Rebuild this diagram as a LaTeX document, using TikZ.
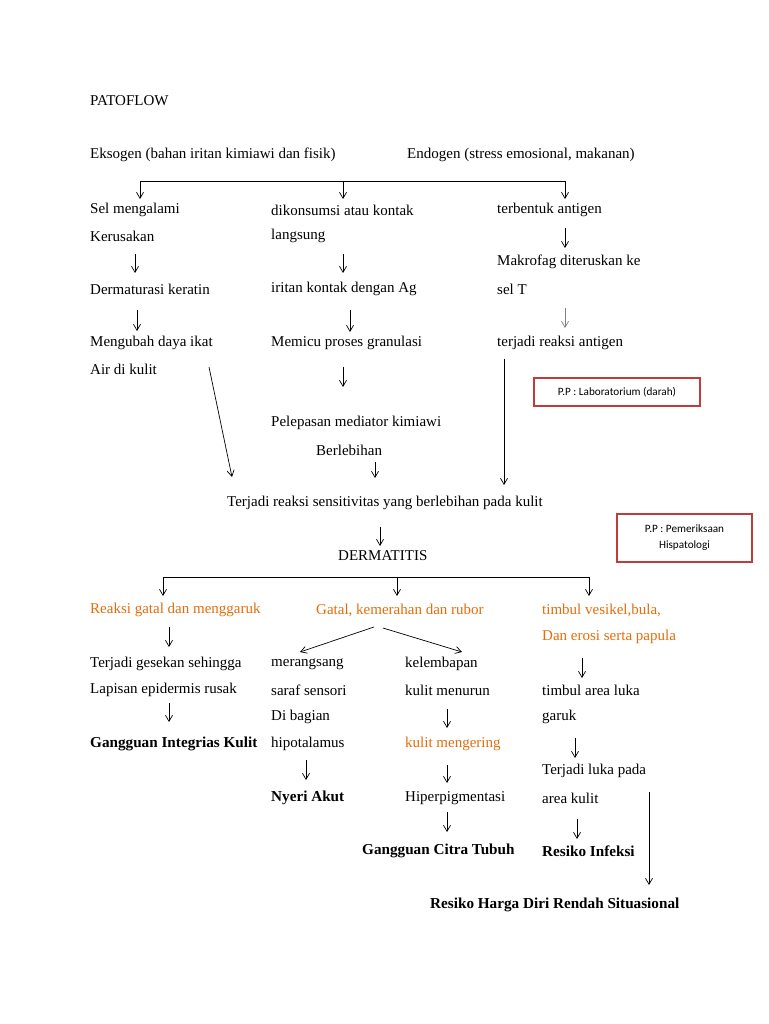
\documentclass[tikz,border=0pt]{standalone}
\usepackage{fontspec}
\setmainfont{Liberation Serif}
\newfontfamily\boxfont{Carlito}
\usetikzlibrary{arrows.meta}
\definecolor{org}{RGB}{228,108,10}
\definecolor{rbox}{RGB}{192,60,60}
\begin{document}
\begin{tikzpicture}[x=1pt,y=-1pt,
 t/.style={anchor=west,inner sep=0pt,font=\fontsize{15}{17}\selectfont},
 o/.style={t,text=org},
 b/.style={t,font=\fontsize{15.2}{17}\selectfont\bfseries},
 ar/.style={-{Straight Barb[length=6pt,width=7pt]},line width=0.7pt},
 box/.style={draw=rbox,line width=1.5pt,align=center,font=\boxfont\fontsize{11.2}{16}\selectfont}]
\useasboundingbox (0,0) rectangle (768,1024);
\node[t] (pf) at (90,101) {PATOFLOW};
\node[t] (ek) at (90,155) {Eksogen (bahan iritan kimiawi dan fisik)};
\node[t] (en) at (407,155) {Endogen (stress emosional, makanan)};
\draw[line width=0.7pt] (140,181) -- (565,181);
\draw[ar] (140,181) -- (140,199);
\draw[ar] (343,181) -- (343,199);
\draw[ar] (565,181) -- (565,199);
\node[t] at (90,210) {Sel mengalami};
\node[t] at (90,236) {Kerusakan};
\node[t] at (271,210) {dikonsumsi atau kontak};
\node[t] at (271,236) {langsung};
\node[t] at (497,210) {terbentuk antigen};
\draw[ar] (565,228) -- (565,248);
\node[t] at (497,262) {Makrofag diteruskan ke};
\node[t] at (497,289) {sel T};
\draw[ar] (135,254) -- (135,273);
\draw[ar] (343,254) -- (343,273);
\node[t] at (90,289) {Dermaturasi keratin};
\node[t] at (271,289) {iritan kontak dengan Ag};
\draw[ar] (137,310) -- (137,331);
\draw[ar] (350,310) -- (350,332);
\draw[ar,gray] (565,308) -- (565,328);
\node[t] at (90,343) {Mengubah daya ikat};
\node[t] at (90,369) {Air di kulit};
\node[t] at (271,343) {Memicu proses granulasi};
\node[t] at (497,343) {terjadi reaksi antigen};
\draw[ar] (343,367) -- (343,387);
\node[box,minimum width=166pt,minimum height=28pt] (b1) at (617,392) {P.P : Laboratorium (darah)};
\draw[ar] (209,367) -- (232,477);
\node[t] at (271,423) {Pelepasan mediator kimiawi};
\node[t] at (316,450) {Berlebihan};
\draw[ar] (375,462) -- (375,478);
\draw[ar] (504,359) -- (504,485);
\node[t] at (227,503) {Terjadi reaksi sensitivitas yang berlebihan pada kulit};
\draw[ar] (380,527) -- (380,546);
\node[box,minimum width=135pt,minimum height=48pt] (b2) at (684.5,538) {P.P : Pemeriksaan\\Hispatologi};
\node[t] at (338,556) {DERMATITIS};
\draw[line width=0.7pt] (163,577) -- (589,577);
\draw[ar] (163,577) -- (163,596);
\draw[ar] (397,577) -- (397,596);
\draw[ar] (589,577) -- (589,596);
\node[o] at (90,610) {Reaksi gatal dan menggaruk};
\node[o] at (316,610) {Gatal, kemerahan dan rubor};
\node[o] at (542,610) {timbul vesikel,bula,};
\node[o] at (542,637) {Dan erosi serta papula};
\draw[ar] (169,627) -- (169,647);
\draw[ar] (374,627) -- (300,652);
\draw[ar] (383,628) -- (462,652);
\node[t] at (90,664) {Terjadi gesekan sehingga};
\node[t] at (90,690) {Lapisan epidermis rusak};
\node[t] at (271,664) {merangsang};
\node[t] at (271,690) {saraf sensori};
\node[t] at (271,717) {Di bagian};
\node[t] at (271,744) {hipotalamus};
\node[t] at (405,664) {kelembapan};
\node[t] at (405,690) {kulit menurun};
\draw[ar] (582,658) -- (582,678);
\node[t] at (542,690) {timbul area luka};
\node[t] at (542,717) {garuk};
\draw[ar] (169,703) -- (169,722);
\draw[ar] (447,709) -- (447,728);
\node[b] at (90,744) {Gangguan Integrias Kulit};
\node[o] at (405,744) {kulit mengering};
\draw[ar] (575,738) -- (575,758);
\node[t] at (542,771) {Terjadi luka pada};
\node[t] at (542,798) {area kulit};
\draw[ar] (306,760) -- (306,780);
\draw[ar] (447,765) -- (447,783);
\node[b] at (271,798) {Nyeri Akut};
\node[t] at (405,798) {Hiperpigmentasi};
\draw[ar] (649,792) -- (649,885);
\draw[ar] (447,812) -- (447,832);
\draw[ar] (577,819) -- (577,839);
\node[b] at (362,851) {Gangguan Citra Tubuh};
\node[b] at (542,851) {Resiko Infeksi};
\node[b] at (430,905) {Resiko Harga Diri Rendah Situasional};
\end{tikzpicture}
\end{document}
